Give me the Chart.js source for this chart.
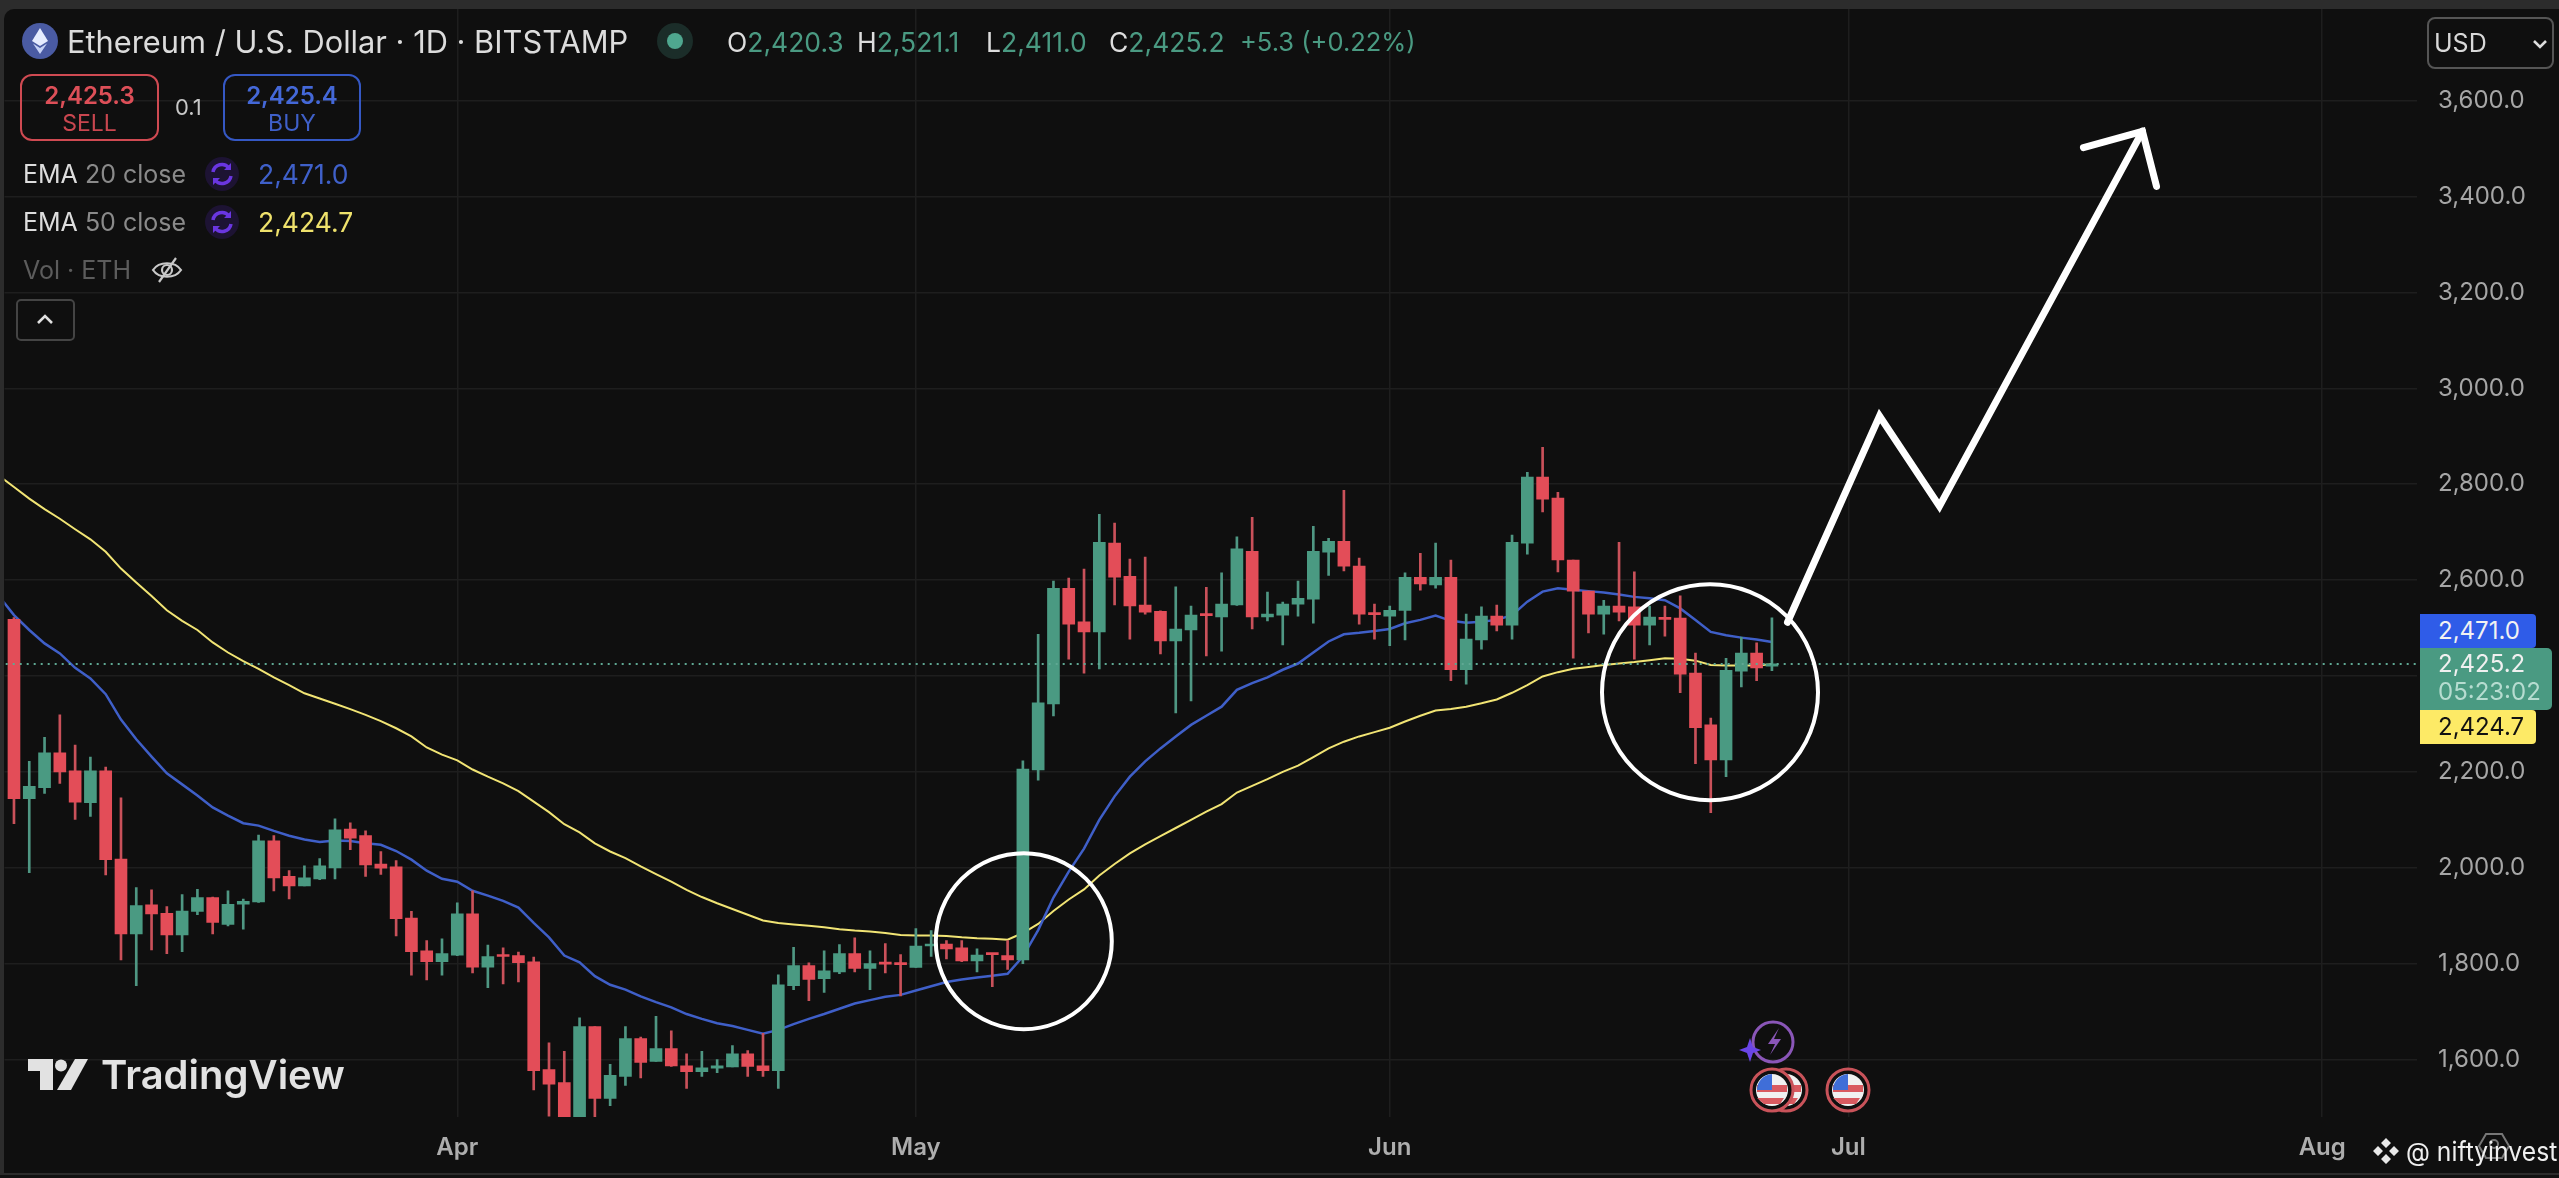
<!DOCTYPE html>
<html>
<head>
<meta charset="utf-8">
<title>ETH/USD</title>
<script src="https://cdn.jsdelivr.net/npm/chart.js@4"></script>
<style>
html,body{margin:0;padding:0;width:2559px;height:1178px;overflow:hidden;background:#2c2c2c;font-family:Inter,sans-serif;}
#panel{position:absolute;left:4px;top:9px;width:2555px;height:1164px;background:#0f0f0f;border-top-left-radius:10px;}
#foot{position:absolute;left:0;top:1175px;width:2559px;height:3px;background:#111;}
canvas{position:absolute;left:0;top:0;}
.t{position:absolute;white-space:nowrap;line-height:1;}
.box{position:absolute;box-sizing:border-box;border:2px solid;border-radius:12px;text-align:center;}
.tag{position:absolute;left:2420px;width:116px;box-sizing:border-box;padding-left:18px;font-size:24px;border-radius:0 4px 4px 0;}
.ohlc{top:29px;font-size:26.5px;color:#4a9a82;}
.ohlc span{color:#ddd;}
svg{position:absolute;overflow:visible;}
</style>
</head>
<body>
<div id="panel"></div>
<div id="foot"></div>
<canvas id="c" width="2559" height="1178"></canvas>

<!-- legend top left -->
<svg style="left:22px;top:23px" width="36" height="36" viewBox="0 0 36 36"><circle cx="18" cy="18" r="18" fill="#4a5ba3"/><path d="M18 5 L26 18 L18 23 L10 18Z" fill="#e6ecff"/><path d="M18 25 L25 20.5 L18 31 L11 20.5Z" fill="#c6d2f5"/></svg>
<div class="t" style="left:67px;top:27px;font-size:30.8px;color:#dcdcdc;">Ethereum / U.S. Dollar · 1D · BITSTAMP</div>
<svg style="left:657px;top:23px" width="36" height="36"><circle cx="18" cy="18" r="18" fill="#1b2d29"/><circle cx="18" cy="18" r="8" fill="#4fa78f"/></svg>
<div class="t ohlc" style="left:727px;"><span>O</span>2,420.3</div>
<div class="t ohlc" style="left:857px;"><span>H</span>2,521.1</div>
<div class="t ohlc" style="left:986px;"><span>L</span>2,411.0</div>
<div class="t ohlc" style="left:1109px;"><span>C</span>2,425.2</div>
<div class="t ohlc" style="left:1240px;font-size:25.5px;">+5.3 (+0.22%)</div>

<div class="box" style="left:20px;top:74px;width:139px;height:67px;border-color:#cf4a52;"></div>
<div class="t" style="left:20px;width:139px;text-align:center;top:84px;font-size:24px;font-weight:600;color:#dd4f58;">2,425.3</div>
<div class="t" style="left:20px;width:139px;text-align:center;top:112px;font-size:23px;color:#c9464f;">SELL</div>
<div class="t" style="left:175px;top:96px;font-size:22px;color:#c8c8c8;">0.1</div>
<div class="box" style="left:223px;top:74px;width:138px;height:67px;border-color:#3558c4;"></div>
<div class="t" style="left:223px;width:138px;text-align:center;top:84px;font-size:24px;font-weight:600;color:#4468d8;">2,425.4</div>
<div class="t" style="left:223px;width:138px;text-align:center;top:112px;font-size:23px;color:#3f60c9;">BUY</div>

<div class="t" style="left:23px;top:162px;font-size:25px;color:#8a8a8a;"><span style="color:#ddd">EMA</span> 20 close</div>
<svg style="left:205px;top:157px" width="34" height="34" viewBox="0 0 34 34"><circle cx="17" cy="17" r="17" fill="#1d1333"/><path d="M8 15a9 9 0 0 1 16-4M26 19a9 9 0 0 1-16 4" stroke="#6a36e0" stroke-width="3.5" fill="none"/><path d="M26 6v7h-7zM8 28v-7h7z" fill="#6a36e0"/></svg>
<div class="t" style="left:258px;top:161px;font-size:26.5px;color:#3f60c9;">2,471.0</div>
<div class="t" style="left:23px;top:210px;font-size:25px;color:#8a8a8a;"><span style="color:#ddd">EMA</span> 50 close</div>
<svg style="left:205px;top:205px" width="34" height="34" viewBox="0 0 34 34"><circle cx="17" cy="17" r="17" fill="#1d1333"/><path d="M8 15a9 9 0 0 1 16-4M26 19a9 9 0 0 1-16 4" stroke="#6a36e0" stroke-width="3.5" fill="none"/><path d="M26 6v7h-7zM8 28v-7h7z" fill="#6a36e0"/></svg>
<div class="t" style="left:258px;top:209px;font-size:26.5px;color:#efe26c;">2,424.7</div>
<div class="t" style="left:23px;top:258px;font-size:25px;color:#5c5c5c;">Vol · ETH</div>
<svg style="left:151px;top:256px" width="32" height="28" viewBox="0 0 32 28" fill="none" stroke="#c8c8c8" stroke-width="2.2"><path d="M2 14C8 5 24 5 30 14C24 23 8 23 2 14Z"/><circle cx="16" cy="14" r="5"/><path d="M8 26L25 2"/></svg>
<div class="box" style="left:16px;top:299px;width:59px;height:42px;border-color:#444;border-radius:5px;"></div>
<svg style="left:37px;top:314px" width="16" height="12" fill="none" stroke="#e0e0e0" stroke-width="2.6"><path d="M1 9L8 2L15 9"/></svg>

<!-- currency button -->
<div class="box" style="left:2427px;top:17px;width:127px;height:52px;border-color:#555;border-radius:8px;"></div>
<div class="t" style="left:2434px;top:31px;font-size:25px;color:#d8d8d8;">USD</div>
<svg style="left:2533px;top:39px" width="14" height="10" fill="none" stroke="#ddd" stroke-width="2.6"><path d="M1 2L7 8L13 2"/></svg>

<!-- last value tags -->
<div class="tag" style="top:614px;height:34px;line-height:34px;background:#2f5ce8;color:#f2f2f2;">2,471.0</div>
<div class="tag" style="top:648px;width:132px;height:62px;background:#4a9a82;border-radius:0 5px 5px 0;"></div>
<div class="t" style="left:2438px;top:652px;font-size:24px;color:#f0f0f0;">2,425.2</div>
<div class="t" style="left:2438px;top:680px;font-size:24px;color:#b6dcd0;">05:23:02</div>
<div class="tag" style="top:710px;height:34px;line-height:34px;background:#fdea66;color:#111;">2,424.7</div>

<!-- logo -->
<svg style="left:28px;top:1059px" width="60" height="31" viewBox="0 0 60 31" fill="#e2e2e2"><path d="M0 0H25V31H12V12H0Z"/><circle cx="33" cy="6.5" r="6"/><path d="M47 0H60L43 31H29Z"/></svg>
<div class="t" style="left:101px;top:1055px;font-size:40px;font-weight:600;color:#e2e2e2;">TradingView</div>

<!-- event markers -->
<svg style="left:1745px;top:1018px" width="60" height="50" fill="none"><circle cx="28" cy="24" r="20" stroke="#8a56b8" stroke-width="3"/><path d="M34 10L23 26H30L25 37L36 21H29Z" fill="#8a56b8"/><path d="M5 20L8 29L16 32L8 35L5 44L2 35L-6 32L2 29Z" fill="#6a45e8"/></svg>
<svg style="left:1750px;top:1068px" width="120" height="46" viewBox="0 0 120 46"><defs>
<g id="fl"><circle cx="22" cy="22" r="21" fill="#0f0f0f" stroke="#c9535a" stroke-width="3"/><circle cx="22" cy="22" r="16" fill="#f1f1f1"/><path d="M7 17H37V24H7ZM7 30H34L30 36H14Z" fill="#d95a60"/><path d="M7 22A16 16 0 0 1 22 6V22Z" fill="#3f6ed8"/></g></defs>
<use href="#fl" x="14"/><use href="#fl" x="0"/><use href="#fl" x="76"/></svg>

<!-- watermark -->
<svg style="left:2372px;top:1137px" width="28" height="28" viewBox="0 0 28 28" fill="#e8e8e8"><path d="M14 1L19 6L14 11L9 6ZM14 17L19 22L14 27L9 22ZM6 9L11 14L6 19L1 14ZM22 9L27 14L22 19L17 14Z"/></svg>
<svg style="left:2478px;top:1132px" width="32" height="34" fill="none" stroke="#777" stroke-width="2"><path d="M8 2H24L31 14L24 26H8L1 14Z"/><circle cx="16" cy="12" r="4"/></svg>
<div class="t" style="left:2406px;top:1139px;font-size:26px;color:#efefef;transform:scaleX(.95);transform-origin:left;">@ niftyinvest</div>

<script>
// candle values, one entry per day
const opens = [2518,2144,2167,2240,2202,2136,2202,2018,1862,1923,
  1905,1860,1909,1938,1882,1924,1929,2056,1982,1962,
  1977,2000,2081,2067,2008,2002,1895,1827,1804,1818,
  1904,1793,1817,1817,1804,1579,1552,1481,1669,1519,
  1565,1644,1596,1623,1587,1575,1582,1585,1612,1587,
  1577,1754,1796,1769,1783,1821,1790,1802,1800,1792,
  1837,1841,1833,1806,1821,1817,1808,2204,2342,2583,
  2513,2492,2677,2608,2548,2535,2473,2496,2529,2523,
  2548,2660,2523,2527,2550,2560,2658,2681,2629,2531,
  2525,2537,2606,2590,2606,2413,2475,2525,2506,2677,
  2815,2771,2642,2577,2529,2546,2544,2506,2522,2521,
  2406,2298,2225,2410,2448,2420.3];
const closes = [2144,2170,2240,2200,2137,2202,2017,1862,1921,1904,
  1860,1910,1938,1886,1924,1930,2056,1979,1962,1979,
  2004,2079,2062,2006,1999,1894,1825,1804,1821,1904,
  1793,1815,1815,1802,1577,1549,1481,1669,1519,1567,
  1644,1594,1623,1587,1575,1583,1587,1612,1586,1577,
  1756,1796,1767,1785,1821,1790,1800,1799,1798,1837,
  1841,1831,1806,1818,1819,1808,2206,2344,2583,2508,
  2492,2679,2606,2546,2533,2473,2498,2527,2526,2550,
  2665,2523,2529,2550,2562,2660,2681,2629,2529,2528,
  2537,2606,2592,2606,2413,2477,2525,2506,2679,2815,
  2769,2642,2577,2529,2546,2533,2506,2523,2518,2404,
  2292,2225,2412,2448,2417,2425.2];
const highs = [2522,2222,2272,2319,2256,2231,2210,2146,1959,1954,
  1919,1944,1955,1939,1952,1935,2068,2067,1994,2004,
  2019,2102,2094,2077,2034,2015,1909,1848,1852,1927,
  1952,1839,1833,1824,1814,1635,1617,1687,1669,1590,
  1669,1647,1690,1660,1612,1617,1600,1629,1619,1655,
  1777,1834,1802,1827,1840,1854,1827,1842,1819,1873,
  1869,1848,1848,1831,1821,1848,2223,2487,2598,2604,
  2623,2737,2719,2644,2648,2536,2586,2546,2585,2615,
  2690,2731,2575,2554,2598,2712,2687,2787,2646,2550,
  2546,2615,2656,2677,2642,2529,2544,2548,2694,2825,
  2877,2783,2642,2577,2558,2679,2617,2546,2546,2567,
  2448,2312,2437,2481,2469,2521.1];
const lows = [2092,1990,2155,2176,2101,2107,1985,1808,1754,1829,
  1821,1825,1902,1862,1879,1872,1928,1952,1935,1962,
  1975,1977,2038,1982,1986,1858,1776,1766,1776,1817,
  1781,1750,1758,1762,1537,1482,1481,1481,1481,1504,
  1546,1562,1596,1586,1540,1565,1573,1585,1565,1565,
  1540,1746,1723,1740,1779,1783,1746,1781,1733,1792,
  1815,1810,1804,1783,1752,1788,1800,2183,2317,2435,
  2406,2415,2548,2477,2529,2446,2323,2348,2442,2452,
  2547,2498,2515,2465,2525,2510,2610,2619,2508,2477,
  2463,2475,2579,2583,2390,2383,2456,2494,2477,2654,
  2742,2617,2437,2490,2487,2515,2435,2465,2483,2365,
  2217,2115,2190,2377,2390,2411.0];

// moving averages, first entry is the day before the first candle (off the left edge)
const ema20 = [2567,
  2527,2496,2468,2447,2417,2395,2362,2309,2268,2232,
  2197,2174,2151,2126,2109,2093,2088,2077,2067,2059,
  2054,2057,2056,2051,2048,2035,2017,1994,1977,1971,
  1952,1942,1931,1917,1885,1855,1817,1803,1774,1756,
  1746,1732,1720,1709,1695,1685,1676,1670,1662,1654,
  1662,1674,1685,1695,1706,1717,1724,1731,1735,1744,
  1753,1762,1767,1771,1775,1779,1815,1870,1938,1992,
  2040,2100,2149,2190,2222,2249,2274,2298,2317,2336,
  2371,2385,2397,2413,2426,2449,2472,2487,2490,2494,
  2498,2510,2517,2526,2515,2511,2513,2517,2527,2555,
  2576,2583,2580,2577,2574,2570,2565,2562,2558,2541,
  2517,2492,2485,2480,2476,2471.0];
const ema50 = [2818,
  2794,2770,2748,2728,2706,2685,2659,2624,2595,2567,
  2537,2515,2496,2470,2449,2431,2415,2397,2381,2364,
  2353,2342,2331,2319,2306,2291,2274,2251,2236,2224,
  2205,2190,2176,2160,2138,2116,2091,2074,2051,2034,
  2020,2003,1987,1971,1954,1939,1926,1914,1902,1890,
  1885,1882,1879,1876,1872,1869,1867,1864,1860,1859,
  1859,1858,1855,1853,1852,1850,1864,1883,1910,1934,
  1955,1984,2008,2030,2049,2066,2083,2100,2117,2133,
  2157,2171,2185,2200,2213,2231,2249,2263,2274,2283,
  2292,2305,2317,2328,2331,2336,2343,2351,2365,2381,
  2399,2408,2415,2419,2423,2426,2429,2433,2437,2436,
  2432,2423,2422,2422,2422,2424.7];

// axes
const priceTicks = [1600,1800,2000,2200,2400,2600,2800,3000,3200,3400,3600];
const monthDays = [29,59,90,120,151];
const monthNames = ['Apr','May','Jun','Jul','Aug'];
const lastClose = 2425.2;

// hand drawn annotations, in day / price terms
const arrowDays = [116.02,122.04,125.96,139.24];
const arrowPrices = [2512,2942,2754,3536];
const headDays = [135.38,139.24,140.16];
const headPrices = [3502,3536,3421];
const circleDays = [66.06,110.95];
const circlePrices = [1847,2366];
const circleSizes = [88,108];

const UP='#4a9a82', DOWN='#e34d58', WICK_UP='#4f9783', WICK_DOWN='#c9515a';
const GRID='#1e1e1e';
const isUp = opens.map(function(o,i){ return closes[i]>=o; });
const days = opens.map(function(o,i){ return i; });

function fmt(v){ return v.toLocaleString('en-US',{minimumFractionDigits:1,maximumFractionDigits:1}); }
function pts(xs,ys){ return xs.map(function(x,i){ return {x:x,y:ys[i]}; }); }
function emaPts(arr){ return arr.map(function(v,i){ return {x:i-1,y:v}; }); }
function line(data,color,width,extra){
  return Object.assign({type:'line',data:data,borderColor:color,borderWidth:width,pointRadius:0,tension:0,fill:false},extra||{});
}

new Chart(document.getElementById('c'),{
  type:'bar',
  data:{datasets:[
    line(emaPts(ema20),'#3f5fc8',2.5,{label:'EMA 20',order:6}),
    line(emaPts(ema50),'#f1e474',2,{label:'EMA 50',order:7}),
    {label:'wicks',order:5,grouped:false,barThickness:2,
      data:days.map(function(i){ return {x:i,y:[lows[i],highs[i]]}; }),
      backgroundColor:isUp.map(function(u){ return u?WICK_UP:WICK_DOWN; })},
    {label:'bodies',order:4,grouped:false,barThickness:12,minBarLength:2,
      data:days.map(function(i){ return {x:i,y:[opens[i],closes[i]]}; }),
      backgroundColor:isUp.map(function(u){ return u?UP:DOWN; })},
    line(pts([-1,158],[lastClose,lastClose]),'#5fa893',2,{label:'last',order:3,borderDash:[2,5]}),
    {type:'bubble',label:'circles',order:2,data:circleDays.map(function(d,i){ return {x:d,y:circlePrices[i],r:circleSizes[i]}; }),
      backgroundColor:'rgba(0,0,0,0)',borderColor:'#ffffff',borderWidth:4,clip:false},
    line(pts(arrowDays,arrowPrices),'#ffffff',7,{label:'arrow',order:1,borderCapStyle:'round',borderJoinStyle:'miter',clip:false}),
    line(pts(headDays,headPrices),'#ffffff',7,{label:'arrow head',order:1,borderCapStyle:'round',borderJoinStyle:'miter',clip:false})
  ]},
  options:{
    responsive:false,animation:false,devicePixelRatio:1,events:[],
    layout:{autoPadding:false,padding:{left:4.5,top:9,right:0,bottom:0}},
    plugins:{legend:{display:false},tooltip:{enabled:false}},
    scales:{
      x:{type:'linear',offset:false,min:-0.62,max:157.2,
        grid:{offset:false,color:GRID,lineWidth:1.5,drawTicks:false},border:{display:false},
        afterBuildTicks:function(s){ s.ticks=monthDays.map(function(v){ return {value:v}; }); },
        afterFit:function(s){ s.height=61; s.paddingLeft=0; s.paddingRight=0; },
        ticks:{autoSkip:false,maxRotation:0,padding:16,color:'#adadad',font:{family:'Inter',size:24,weight:'600'},
          callback:function(v){ return monthNames[monthDays.indexOf(v)]; }}
      },
      y:{type:'linear',position:'right',min:1480.3,max:3791,
        grid:{color:GRID,lineWidth:1.5,drawTicks:false},border:{display:false},
        afterBuildTicks:function(s){ s.ticks=priceTicks.map(function(v){ return {value:v}; }); },
        afterFit:function(s){ s.width=142; s.paddingTop=0; s.paddingBottom=0; },
        ticks:{autoSkip:false,padding:21,color:'#a6a6a6',font:{family:'Inter',size:24},callback:fmt}
      }
    }
  }
});
</script>
</body>
</html>
